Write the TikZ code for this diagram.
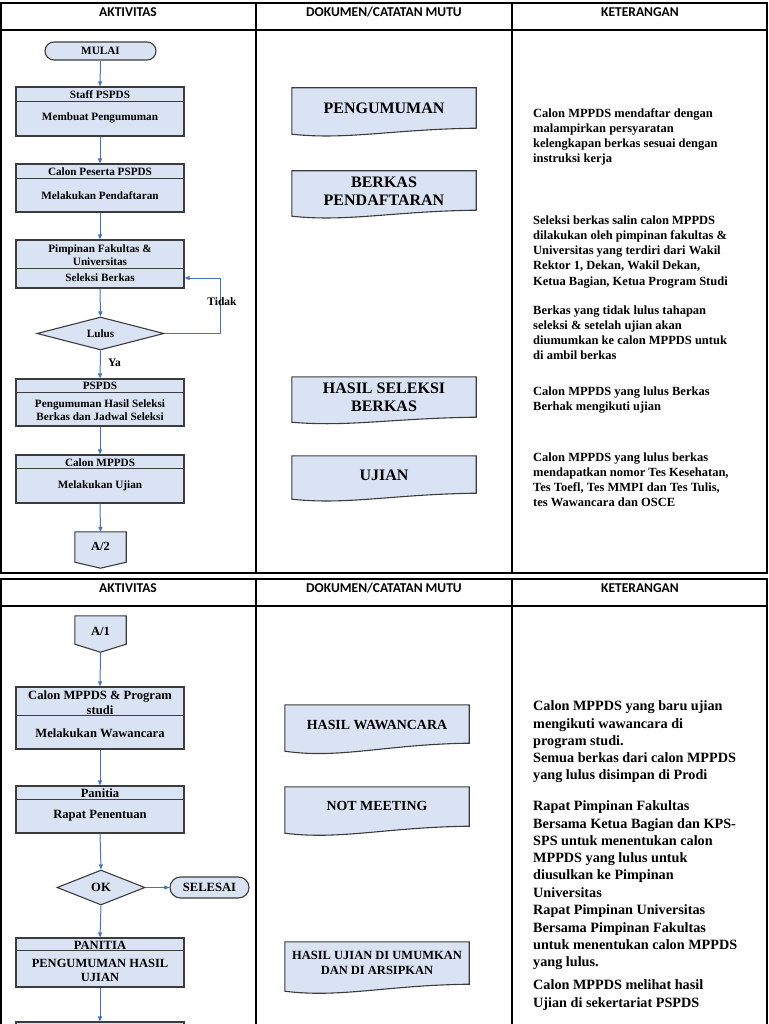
\documentclass[tikz,border=0pt]{standalone}
\usepackage{fontspec}
\setmainfont{Liberation Serif}
\newfontfamily\hdrfont{Carlito}
\usetikzlibrary{shapes.geometric,shapes.misc,arrows.meta,calc}
\definecolor{boxfill}{HTML}{DAE3F3}
\definecolor{boxline}{HTML}{3C3C3C}
\definecolor{arrowblue}{HTML}{4472C4}
\newcommand\docshape[2]{%
  \draw[docline] (#1.north west) -- (#1.north east) -- (#1.south east)
    .. controls ($(#1.south east)!0.45!(#1.south west)+(0,1)$) and ($(#1.south east)!0.7!(#1.south west)+(0,2*#2)$) ..
    ($(#1.south west)+(0,#2)$) -- cycle;}
\newcommand\offpage[2]{%
  \draw[docline] (#1.north west) -- (#1.north east) -- (#1.south east) -- ($(#1.south)+(0,#2)$) -- (#1.south west) -- cycle;}
\begin{document}
\begin{tikzpicture}[x=1pt,y=-1pt,
  tline/.style={line width=1.2pt, draw=black},
  hdr/.style={font=\hdrfont\bfseries\fontsize{13.5}{15}\selectfont, inner sep=0},
  pbox/.style={draw=boxline, fill=boxfill, line width=1.1pt, rectangle, minimum width=168pt, inner sep=0},
  divline/.style={draw=boxline, line width=1.1pt},
  docline/.style={draw=boxline, fill=boxfill, line width=1.1pt},
  frame/.style={draw=none, rectangle, inner sep=0},
  btxt/.style={font=\bfseries\fontsize{11.2}{13.5}\selectfont, align=center, inner sep=0},
  ctxt/.style={font=\bfseries\fontsize{12.6}{15}\selectfont, align=center, inner sep=0},
  dtxt/.style={font=\bfseries\fontsize{16}{18.5}\selectfont, align=center, inner sep=0},
  etxt/.style={font=\bfseries\fontsize{13.9}{16}\selectfont, align=center, inner sep=0},
  ftxt/.style={font=\bfseries\fontsize{12.5}{15}\selectfont, align=center, inner sep=0},
  noteA/.style={anchor=north west, align=left, inner sep=0, font=\bfseries\fontsize{12.5}{15.2}\selectfont},
  noteB/.style={anchor=north west, align=left, inner sep=0, font=\bfseries\fontsize{14.2}{17.3}\selectfont},
  term/.style={rounded rectangle, draw=boxline, fill=boxfill, line width=1.1pt, inner sep=0},
  dec/.style={diamond, draw=boxline, fill=boxfill, line width=1.1pt, inner sep=0, aspect=3.5},
  lbl/.style={font=\bfseries\fontsize{11.5}{13}\selectfont, inner sep=0},
  arr/.style={draw=arrowblue, line width=1pt, -{Triangle[length=5pt,width=4pt]}}
]
\useasboundingbox (0,0) rectangle (768,1024);
\clip (0,0) rectangle (768,1024);
\fill[white] (0,0) rectangle (768,1024);

% ---------------- table 1 ----------------
\draw[tline] (1,3) rectangle (767,573);
\draw[tline] (1,30) -- (767,30);
\draw[tline] (256,3) -- (256,573);
\draw[tline] (512,3) -- (512,573);
\node[hdr] (h1a) at (128,12.5) {AKTIVITAS};
\node[hdr] (h1b) at (384,12.5) {DOKUMEN/CATATAN MUTU};
\node[hdr] (h1c) at (640,12.5) {KETERANGAN};

% left column
\node[term, minimum width=111pt, minimum height=18pt, font=\bfseries\fontsize{11.2}{13}\selectfont] (m) at (100.5,51) {MULAI};

\node[pbox, minimum height=49pt] (b1) at (100,111.5) {};
\draw[divline] ($(b1.north west)+(0,15)$) -- ($(b1.north east)+(0,15)$);
\node[btxt] (b1h) at (100,95) {Staff PSPDS};
\node[btxt] (b1b) at (100,118) {Membuat Pengumuman};

\node[pbox, minimum height=48pt] (b2) at (100,188) {};
\draw[divline] ($(b2.north west)+(0,15)$) -- ($(b2.north east)+(0,15)$);
\node[btxt] (b2h) at (100,171.5) {Calon Peserta PSPDS};
\node[btxt] (b2b) at (100,196) {Melakukan Pendaftaran};

\node[pbox, minimum height=48pt] (b3) at (100,264) {};
\draw[divline] ($(b3.north west)+(0,29)$) -- ($(b3.north east)+(0,29)$);
\node[btxt] (b3h) at (100,255) {Pimpinan Fakultas \&\\Universitas};
\node[btxt] (b3b) at (100,278) {Seleksi Berkas};

\node[dec, minimum width=127pt, minimum height=33pt] (lulus) at (100.5,333.5) {};
\node[btxt] (lulust) at (100.5,333.5) {Lulus};

\node[pbox, minimum height=47pt] (b4) at (100,402.5) {};
\draw[divline] ($(b4.north west)+(0,14)$) -- ($(b4.north east)+(0,14)$);
\node[btxt] (b4h) at (100,386) {PSPDS};
\node[btxt] (b4b) at (100,410) {Pengumuman Hasil Seleksi\\Berkas dan Jadwal Seleksi};

\node[pbox, minimum height=48pt] (b5) at (100,479) {};
\draw[divline] ($(b5.north west)+(0,14)$) -- ($(b5.north east)+(0,14)$);
\node[btxt] (b5h) at (100,462.5) {Calon MPPDS};
\node[btxt] (b5b) at (100,486) {Melakukan Ujian};

\node[frame, minimum width=51pt, minimum height=30pt] (a2) at (100.5,547) {};
\offpage{a2}{6}
\node[btxt, font=\bfseries\fontsize{12.5}{14}\selectfont] (a2t) at (100.5,546) {A/2};

\draw[arr] (m.south) -- (b1.north);
\draw[arr] (b1.south) -- (b2.north);
\draw[arr] (b2.south) -- (b3.north);
\draw[arr] (b3.south) -- (lulus.north);
\coordinate (loop) at (220,278);
\draw[arr] (lulus.east) -| (loop) -- (b3.east |- loop);
\node[lbl] (tidak) at (222,302) {Tidak};
\draw[arr] (lulus.south) -- (b4.north);
\node[lbl] (ya) at (114.5,363) {Ya};
\draw[arr] (b4.south) -- (b5.north);
\draw[arr] (b5.south) -- (a2.north);

% middle column
\node[frame, minimum width=184pt, minimum height=40pt] (d1) at (384,108) {};
\docshape{d1}{6}
\node[dtxt] (d1t) at (384,108) {PENGUMUMAN};
\node[frame, minimum width=184pt, minimum height=39pt] (d2) at (384,190.5) {};
\docshape{d2}{6}
\node[dtxt] (d2t) at (384,191) {BERKAS\\PENDAFTARAN};
\node[frame, minimum width=184pt, minimum height=40pt] (d3) at (384,397) {};
\docshape{d3}{5}
\node[dtxt] (d3t) at (384,397.5) {HASIL SELEKSI\\BERKAS};
\node[frame, minimum width=184pt, minimum height=37pt] (d4) at (384,474.5) {};
\docshape{d4}{6}
\node[dtxt] (d4t) at (384,475) {UJIAN};

% right column
\node[noteA] (n1) at (533,108.4) {Calon MPPDS mendaftar dengan\\malampirkan persyaratan\\kelengkapan berkas sesuai dengan\\instruksi kerja};
\node[noteA] (n2) at (533,215.4) {Seleksi berkas salin calon MPPDS\\dilakukan oleh pimpinan fakultas \&\\Universitas yang terdiri dari Wakil\\Rektor 1, Dekan, Wakil Dekan,\\Ketua Bagian, Ketua Program Studi};
\node[noteA] (n3) at (533,305.4) {Berkas yang tidak lulus tahapan\\seleksi \& setelah ujian akan\\diumumkan ke calon MPPDS untuk\\di ambil berkas};
\node[noteA] (n4) at (533,386.4) {Calon MPPDS yang lulus Berkas\\Berhak mengikuti ujian};
\node[noteA] (n5) at (533,452.4) {Calon MPPDS yang lulus berkas\\mendapatkan nomor Tes Kesehatan,\\Tes Toefl, Tes MMPI dan Tes Tulis,\\tes Wawancara dan OSCE};

% ---------------- table 2 ----------------
\draw[tline] (1,579) rectangle (767,1030);
\draw[tline] (1,606) -- (767,606);
\draw[tline] (256,579) -- (256,1030);
\draw[tline] (512,579) -- (512,1030);
\node[hdr] (h2a) at (128,588) {AKTIVITAS};
\node[hdr] (h2b) at (384,588) {DOKUMEN/CATATAN MUTU};
\node[hdr] (h2c) at (640,588) {KETERANGAN};

\node[frame, minimum width=51pt, minimum height=28pt] (a1) at (100.5,630) {};
\offpage{a1}{8}
\node[ctxt] (a1t) at (100.5,631) {A/1};
\coordinate (a1tip) at ($(a1.south)+(0,8)$);

\node[pbox, minimum height=62pt] (c1) at (100,718) {};
\draw[divline] ($(c1.north west)+(0,29)$) -- ($(c1.north east)+(0,29)$);
\node[ctxt] (c1h) at (100,702.5) {Calon MPPDS \& Program\\studi};
\node[ctxt] (c1b) at (100,733) {Melakukan Wawancara};

\node[pbox, minimum height=47pt] (c2) at (100,809.5) {};
\draw[divline] ($(c2.north west)+(0,14)$) -- ($(c2.north east)+(0,14)$);
\node[ctxt] (c2h) at (100,793) {Panitia};
\node[ctxt] (c2b) at (100,816) {Rapat Penentuan};

\node[dec, minimum width=88pt, minimum height=35pt] (ok) at (101,887.5) {};
\node[ctxt] (okt) at (101,887.5) {OK};
\node[term, minimum width=79pt, minimum height=21pt, font=\bfseries\fontsize{12.6}{14}\selectfont] (sel) at (209.5,887.5) {SELESAI};

\node[pbox, minimum height=49pt] (c3) at (100,962.5) {};
\draw[divline] ($(c3.north west)+(0,13)$) -- ($(c3.north east)+(0,13)$);
\node[ctxt] (c3h) at (100,945) {PANITIA};
\node[ctxt, font=\bfseries\fontsize{12.5}{14}\selectfont] (c3b) at (100,970) {PENGUMUMAN HASIL\\UJIAN};

\node[pbox, minimum height=40pt] (c4) at (100,1042) {};

\draw[arr] (a1tip) -- (c1.north);
\draw[arr] (c1.south) -- (c2.north);
\draw[arr] (c2.south) -- (ok.north);
\draw[arr, line width=0.7pt] (ok.east) -- (sel.west);
\draw[arr] (ok.south) -- (c3.north);
\draw[arr] (c3.south) -- (c4.north);

\node[frame, minimum width=184pt, minimum height=38pt] (e1) at (377,724) {};
\docshape{e1}{8}
\node[etxt] (e1t) at (377,725) {HASIL WAWANCARA};
\node[frame, minimum width=184pt, minimum height=39pt] (e2) at (377,806.5) {};
\docshape{e2}{7}
\node[etxt] (e2t) at (377,806) {NOT MEETING};
\node[frame, minimum width=184pt, minimum height=42pt] (e3) at (377,963) {};
\docshape{e3}{7}
\node[ftxt] (e3t) at (377,962.5) {HASIL UJIAN DI UMUMKAN\\DAN DI ARSIPKAN};

\node[noteB] (p1) at (533,700.7) {Calon MPPDS yang baru ujian\\mengikuti wawancara di\\program studi.\\Semua berkas dari calon MPPDS\\yang lulus disimpan di Prodi};
\node[noteB] (p2) at (533,800.7) {Rapat Pimpinan Fakultas\\Bersama Ketua Bagian dan KPS-\\SPS untuk menentukan calon\\MPPDS yang lulus untuk\\diusulkan ke Pimpinan\\Universitas};
\node[noteB] (p3) at (533,904.7) {Rapat Pimpinan Universitas\\Bersama Pimpinan Fakultas\\untuk menentukan calon MPPDS\\yang lulus.};
\node[noteB] (p4) at (533,979.7) {Calon MPPDS melihat hasil\\Ujian di sekertariat PSPDS};
\end{tikzpicture}
\end{document}
